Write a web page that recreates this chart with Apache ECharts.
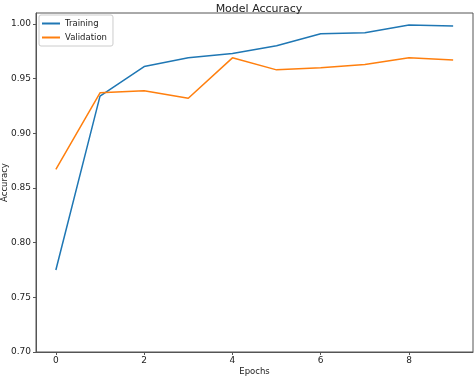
<!DOCTYPE html>
<html>
<head>
<meta charset="utf-8">
<script src="https://cdn.jsdelivr.net/npm/echarts@6/dist/echarts.min.js"></script>
<style>
  html, body { margin: 0; padding: 0; background: #fff; }
  #container { width: 474px; height: 377px; }
</style>
</head>
<body>
<div id="container"></div>
<script>
// epochs and accuracy
var epochs = [0, 1, 2, 3, 4, 5, 6, 7, 8, 9];
var training = [0.775, 0.934, 0.961, 0.969, 0.973, 0.980, 0.991, 0.992, 0.999, 0.998];
var validation = [0.867, 0.937, 0.939, 0.932, 0.969, 0.958, 0.960, 0.963, 0.969, 0.967];
var xTicks = [0, 2, 4, 6, 8];
var yTicks = [0.70, 0.75, 0.80, 0.85, 0.90, 0.95, 1.00];

var dom = document.getElementById('container');
var myChart = echarts.init(dom, null, { renderer: 'canvas' });

function pairs(vals) {
  return epochs.map(function (e, i) { return [e, vals[i]]; });
}

var font = 'DejaVu Sans';
var option = {
  animation: false,
  title: {
    text: 'Model Accuracy',
    left: 254, top: -1,
    textAlign: 'center',
    textStyle: { fontFamily: font, fontSize: 11, fontWeight: 'normal', color: '#222' }
  },
  legend: {
    left: 39, top: 15,
    orient: 'vertical',
    itemWidth: 18, itemHeight: 2, itemGap: 5,
    padding: [4, 6, 4, 3],
    borderColor: '#ccc', borderWidth: 1, borderRadius: 2,
    backgroundColor: '#fff',
    icon: 'rect',
    textStyle: { fontFamily: font, fontSize: 8.5, color: '#222' },
    data: ['Training', 'Validation']
  },
  grid: {
    left: 36, right: 1, top: 13, bottom: 25,
    outerBoundsMode: 'none',
    containLabel: false,
    show: true, borderColor: '#555', borderWidth: 1
  },
  xAxis: {
    type: 'value',
    min: -0.45, max: 9.45,
    name: 'Epochs', nameLocation: 'middle', nameGap: 15, nameMoveOverlap: false,
    nameTextStyle: { fontFamily: font, fontSize: 8.5, color: '#222' },
    axisLine: { show: true, onZero: false, lineStyle: { color: '#555' } },
    axisTick: { show: true, customValues: xTicks, length: 3, lineStyle: { color: '#555' } },
    axisLabel: { customValues: xTicks, fontFamily: font, fontSize: 9, color: '#222', margin: 4 },
    splitLine: { show: false }
  },
  yAxis: {
    type: 'value',
    min: 0.70, max: 1.01,
    name: 'Accuracy', nameLocation: 'middle', nameGap: 27, nameMoveOverlap: false,
    nameTextStyle: { fontFamily: font, fontSize: 8.5, color: '#222' },
    axisLine: { show: true, onZero: false, lineStyle: { color: '#555' } },
    axisTick: { show: true, customValues: yTicks, length: 3, lineStyle: { color: '#555' } },
    axisLabel: {
      customValues: yTicks, fontFamily: font, fontSize: 9, color: '#222', margin: 5,
      formatter: function (v) { return v.toFixed(2); }
    },
    splitLine: { show: false }
  },
  series: [
    {
      name: 'Training', type: 'line', data: pairs(training),
      showSymbol: false, color: '#1f77b4', lineStyle: { width: 1.5 }
    },
    {
      name: 'Validation', type: 'line', data: pairs(validation),
      showSymbol: false, color: '#ff7f0e', lineStyle: { width: 1.5 }
    }
  ]
};

myChart.setOption(option);
window.addEventListener('resize', myChart.resize);
</script>
</body>
</html>
